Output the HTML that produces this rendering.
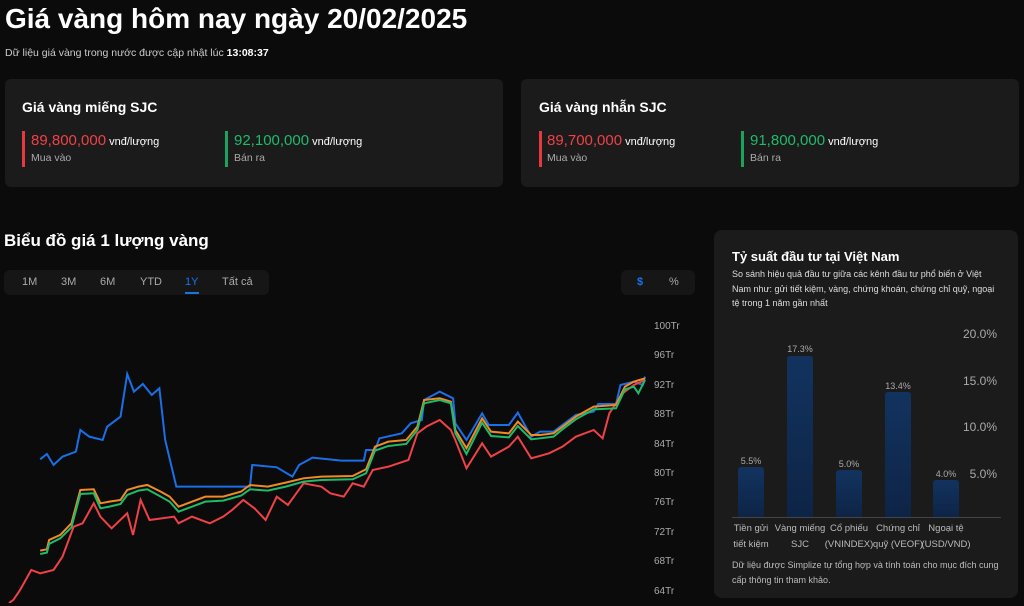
<!DOCTYPE html>
<html><head><meta charset="utf-8"><style>
*{margin:0;padding:0;box-sizing:border-box}
body{width:1024px;height:603px;background:#0b0b0b;color:#fff;font-family:"Liberation Sans","Noto Sans CJK SC",sans-serif;position:relative;overflow:hidden}
.a{position:absolute;white-space:nowrap}
.card{position:absolute;background:#1b1b1c;border-radius:6px}
.bar{position:absolute;border-radius:3px 3px 0 0;background:linear-gradient(#12335f,#0e2446)}
.bl{position:absolute;font-size:9px;color:#aaa;width:40px;text-align:center}
.yl{position:absolute;font-size:12px;color:#aaa;right:27px}
.xl{position:absolute;font-size:9.5px;color:#bbb;text-align:center;line-height:16px;width:60px}
</style></head><body>
<div class="a" style="left:5px;top:3px;font-size:28px;font-weight:bold">Giá vàng hôm nay ngày 20/02/2025</div>
<div class="a" style="left:5px;top:47px;font-size:10.5px;color:#ccc">Dữ liệu giá vàng trong nước được cập nhật lúc <b style="color:#fff">13:08:37</b></div>

<div class="card" style="left:5px;top:79px;width:498px;height:108px"></div>
<div class="a" style="left:22px;top:99px;font-size:14px;font-weight:bold">Giá vàng miếng SJC</div>
<div class="a" style="left:22px;top:131px;width:3px;height:36px;background:#e5383f"></div>
<div class="a" style="left:31px;top:132px;font-size:15px;color:#ef4146">89,800,000<span style="font-size:11px;color:#fff"> vnđ/lượng</span></div>
<div class="a" style="left:31px;top:152px;font-size:10.5px;color:#aaa">Mua vào</div>
<div class="a" style="left:225px;top:131px;width:3px;height:36px;background:#1aa35c"></div>
<div class="a" style="left:234px;top:132px;font-size:15px;color:#1fba6a">92,100,000<span style="font-size:11px;color:#fff"> vnđ/lượng</span></div>
<div class="a" style="left:234px;top:152px;font-size:10.5px;color:#aaa">Bán ra</div>

<div class="card" style="left:521px;top:79px;width:498px;height:108px"></div>
<div class="a" style="left:539px;top:99px;font-size:14px;font-weight:bold">Giá vàng nhẫn SJC</div>
<div class="a" style="left:539px;top:131px;width:3px;height:36px;background:#e5383f"></div>
<div class="a" style="left:547px;top:132px;font-size:15px;color:#ef4146">89,700,000<span style="font-size:11px;color:#fff"> vnđ/lượng</span></div>
<div class="a" style="left:547px;top:152px;font-size:10.5px;color:#aaa">Mua vào</div>
<div class="a" style="left:741px;top:131px;width:3px;height:36px;background:#1aa35c"></div>
<div class="a" style="left:750px;top:132px;font-size:15px;color:#1fba6a">91,800,000<span style="font-size:11px;color:#fff"> vnđ/lượng</span></div>
<div class="a" style="left:750px;top:152px;font-size:10.5px;color:#aaa">Bán ra</div>

<div class="a" style="left:4px;top:231px;font-size:17px;font-weight:bold">Biểu đồ giá 1 lượng vàng</div>
<div class="card" style="left:4px;top:270px;width:265px;height:25px;background:#161617"></div>
<div class="a" style="left:22px;top:276px;font-size:11px;color:#aaa">1M</div>
<div class="a" style="left:61px;top:276px;font-size:11px;color:#aaa">3M</div>
<div class="a" style="left:100px;top:276px;font-size:11px;color:#aaa">6M</div>
<div class="a" style="left:140px;top:276px;font-size:11px;color:#aaa">YTD</div>
<div class="a" style="left:185px;top:276px;font-size:11px;color:#1a73e8">1Y</div>
<div class="a" style="left:185px;top:292px;width:14px;height:2px;background:#1a73e8"></div>
<div class="a" style="left:222px;top:276px;font-size:11px;color:#aaa">Tất cả</div>
<div class="card" style="left:621px;top:270px;width:74px;height:25px;background:#161617"></div>
<div class="a" style="left:637px;top:276px;font-size:11px;color:#1a73e8;font-weight:bold">$</div>
<div class="a" style="left:669px;top:276px;font-size:11px;color:#aaa">%</div>

<div class="a" style="left:654px;top:312px;font-size:10px;color:#aaa;line-height:29.4px">100Tr<br>96Tr<br>92Tr<br>88Tr<br>84Tr<br>80Tr<br>76Tr<br>72Tr<br>68Tr<br>64Tr</div>

<svg class="a" style="left:0;top:0" width="700" height="603">
<g transform="translate(0,230) scale(0.4464,0.3333)" fill="none">
<polyline vector-effect="non-scaling-stroke" stroke="#1a6fe8" stroke-width="2" points="90,688 105,672 120,705 140,680 170,665 180,600 200,620 230,630 240,590 270,560 285,432 300,485 320,462 340,495 357,475 370,630 395,770 560,770 565,705 620,712 655,740 670,705 700,683 765,692 815,692 820,660 840,660 850,625 900,610 920,580 945,570 950,510 985,485 1015,505 1020,580 1045,630 1080,550 1095,585 1140,585 1160,548 1190,620 1210,605 1240,605 1260,585 1290,555 1330,545 1340,522 1380,522 1390,465 1420,455 1440,465 1445,440"/>
<polyline vector-effect="non-scaling-stroke" stroke="#ef4146" stroke-width="2" points="20,1119 30,1110 45,1080 70,1020 90,1030 120,1020 140,980 165,890 185,880 210,820 225,860 250,895 285,850 298,915 315,810 335,870 390,860 400,880 430,860 470,880 500,860 520,840 545,810 570,835 595,870 620,800 645,825 680,760 720,770 740,790 770,800 790,760 815,770 835,720 870,710 915,690 935,610 955,590 985,570 1010,600 1020,630 1045,715 1080,640 1100,680 1140,650 1160,620 1190,685 1230,670 1260,650 1290,620 1330,600 1350,625 1365,550 1395,490 1420,465 1445,450"/>
<polyline vector-effect="non-scaling-stroke" stroke="#f08a24" stroke-width="2" points="90,962 105,958 110,930 135,915 160,880 180,780 210,778 225,820 245,815 270,810 285,780 310,770 330,765 360,785 380,800 400,830 430,815 460,800 500,800 540,785 560,765 600,770 640,758 680,745 720,740 790,738 820,718 840,650 870,635 910,630 935,590 950,510 985,505 1010,515 1020,600 1045,655 1080,565 1100,605 1140,610 1160,575 1190,615 1210,615 1240,610 1260,590 1290,560 1330,530 1380,525 1400,470 1420,455 1445,445"/>
<polyline vector-effect="non-scaling-stroke" stroke="#1fba6a" stroke-width="2" points="90,972 105,968 110,942 135,925 160,892 180,792 210,790 225,835 245,830 270,822 285,795 310,782 330,778 360,800 380,815 400,845 430,830 460,815 500,812 540,797 560,778 600,782 640,770 680,755 720,750 790,748 820,730 840,662 870,648 910,642 935,600 950,520 985,510 1010,520 1020,610 1045,672 1080,578 1100,618 1140,622 1160,588 1190,628 1210,625 1240,620 1260,598 1290,568 1330,538 1380,535 1400,478 1420,470 1430,490 1445,450"/>
</g></svg>

<div class="card" style="left:714px;top:230px;width:304px;height:368px;border-radius:8px"></div>
<div class="a" style="left:732px;top:249px;font-size:13px;font-weight:bold">Tỷ suất đầu tư tại Việt Nam</div>
<div class="a" style="left:732px;top:267px;font-size:9px;color:#ddd;line-height:14.5px;white-space:normal;width:270px">So sánh hiệu quả đầu tư giữa các kênh đầu tư phổ biến ở Việt Nam như: gửi tiết kiệm, vàng, chứng khoán, chứng chỉ quỹ, ngoại tệ trong 1 năm gần nhất</div>
<div class="yl" style="top:327px">20.0%</div>
<div class="yl" style="top:374px">15.0%</div>
<div class="yl" style="top:420px">10.0%</div>
<div class="yl" style="top:467px">5.0%</div>
<div class="bar" style="left:738px;top:467px;width:26px;height:50px"></div>
<div class="bar" style="left:787px;top:356px;width:26px;height:161px"></div>
<div class="bar" style="left:836px;top:470px;width:26px;height:47px"></div>
<div class="bar" style="left:885px;top:392px;width:26px;height:125px"></div>
<div class="bar" style="left:933px;top:480px;width:26px;height:37px"></div>
<div class="bl" style="left:731px;top:456px">5.5%</div>
<div class="bl" style="left:780px;top:344px">17.3%</div>
<div class="bl" style="left:829px;top:459px">5.0%</div>
<div class="bl" style="left:878px;top:381px">13.4%</div>
<div class="bl" style="left:926px;top:469px">4.0%</div>
<div class="a" style="left:732px;top:517px;width:269px;height:1px;background:#444"></div>
<div class="xl" style="left:721px;top:521px">Tiền gửi<br>tiết kiệm</div>
<div class="xl" style="left:770px;top:521px">Vàng miếng<br>SJC</div>
<div class="xl" style="left:819px;top:521px">Cổ phiếu<br>(VNINDEX)</div>
<div class="xl" style="left:868px;top:521px">Chứng chỉ<br>quỹ (VEOF)</div>
<div class="xl" style="left:916px;top:521px">Ngoại tệ<br>(USD/VND)</div>
<div class="a" style="left:732px;top:558px;font-size:9px;color:#bbb;line-height:15px;white-space:normal;width:270px">Dữ liệu được Simplize tự tổng hợp và tính toán cho mục đích cung cấp thông tin tham khảo.</div>
</body></html>
